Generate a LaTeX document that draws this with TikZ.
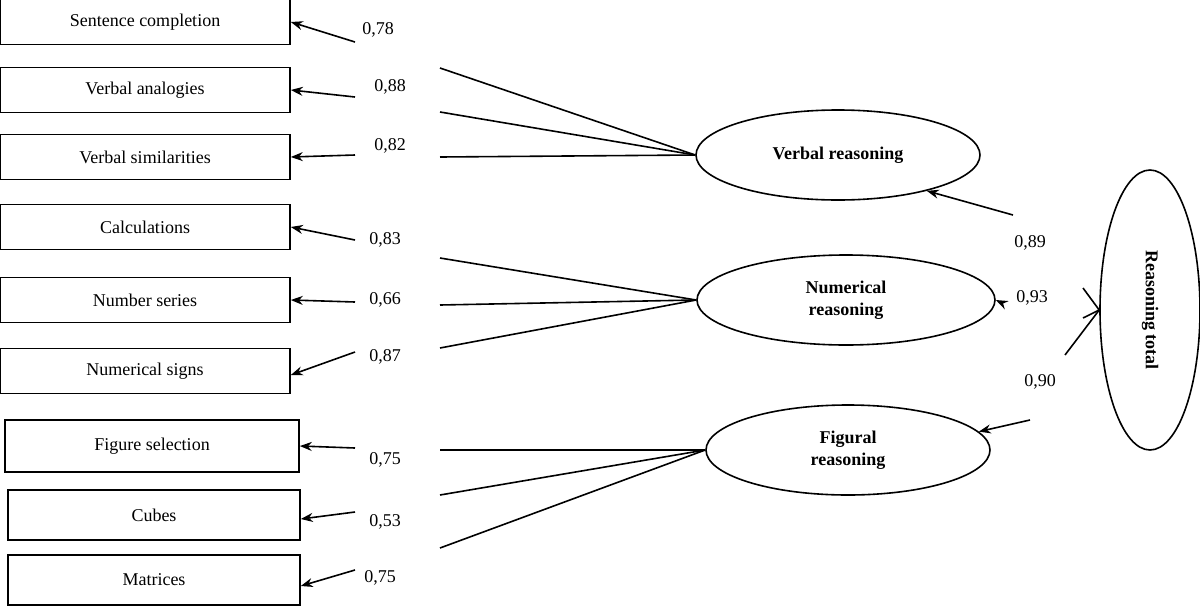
\documentclass[tikz,border=0pt]{standalone}
\usepackage{fontspec}
\setmainfont{Liberation Serif}
\usetikzlibrary{positioning,shapes.geometric,arrows.meta}
\begin{document}
\begin{tikzpicture}[x=0.5pt, y=-0.5pt, >={Stealth[length=6pt,width=4.5pt]},
  font=\fontsize{9}{10.5}\selectfont,
  obs/.style={draw, thick, minimum width=145pt, minimum height=22.5pt, inner sep=0pt},
  lat/.style={draw, thick, ellipse, minimum width=142pt, minimum height=45pt, font=\fontsize{9}{11}\selectfont\bfseries, align=center},
  load/.style={inner sep=1pt},
  arr/.style={->, thick}]
\useasboundingbox (0,0) rectangle (1200,611);
% observed
\node[obs] (sc) at (145,22) {Sentence completion};
\node[obs] (va) at (145,90) {Verbal analogies};
\node[obs] (vs) at (145,157) {Verbal similarities};
\node[obs] (ca) at (145,227) {Calculations};
\node[obs] (ns) at (145,300) {Number series};
\node[obs] (nsg) at (145,371) {Numerical signs};
\node[obs, minimum width=147pt, minimum height=26pt] (fs) at (152,446) {Figure selection};
\node[obs, minimum width=146pt, minimum height=25pt] (cu) at (154,515) {Cubes};
\node[obs, minimum width=146pt, minimum height=25pt] (ma) at (154,580) {Matrices};
% latent
\node[lat] (vr) at (838,155) {Verbal reasoning};
\node[lat, minimum width=149pt] (nr) at (846,300) {Numerical\\reasoning};
\node[lat] (fr) at (848,450) {Figural\\reasoning};
\node[draw, thick, ellipse, minimum width=50pt, minimum height=140pt, font=\fontsize{9}{11}\selectfont\bfseries] (rt) at (1150,310) {\rotatebox{-90}{Reasoning total}};
% loadings
\node[load] (l1) at (378,30) {0,78};
\node[load] (l2) at (390,87) {0,88};
\node[load] (l3) at (390,146) {0,82};
\node[load] (l4) at (385,240) {0,83};
\node[load] (l5) at (385,300) {0,66};
\node[load] (l6) at (385,357) {0,87};
\node[load] (l7) at (385,460) {0,75};
\node[load] (l8) at (385,522) {0,53};
\node[load] (l9) at (380,578) {0,75};
\node[load] (g1) at (1030,243) {0,89};
\node[load] (g2) at (1032,298) {0,93};
\node[load] (g3) at (1040,382) {0,90};
% line ends
\coordinate (a1) at (355,42);  \coordinate (b1) at (440,68);
\coordinate (a2) at (355,97);  \coordinate (b2) at (440,112);
\coordinate (a3) at (355,155); \coordinate (b3) at (440,157);
\coordinate (a4) at (355,240); \coordinate (b4) at (440,258);
\coordinate (a5) at (355,302); \coordinate (b5) at (440,305);
\coordinate (a6) at (355,352); \coordinate (b6) at (440,348);
\coordinate (a7) at (355,448); \coordinate (b7) at (440,450);
\coordinate (a8) at (355,512); \coordinate (b8) at (440,495);
\coordinate (a9) at (355,570); \coordinate (b9) at (440,548);
\coordinate (c1) at (1013,215); \coordinate (c2) at (1000,302); \coordinate (c3) at (1030,420);
\coordinate (d1) at (1083,288); \coordinate (d2) at (1083,318); \coordinate (d3) at (1065,355);
% connectors
\draw[arr] (a1) -- (sc.east);
\draw[arr] (a2) -- (va.east);
\draw[arr] (a3) -- (vs.east);
\draw[arr] (a4) -- (ca.east);
\draw[arr] (a5) -- (ns.east);
\draw[arr] (a6) -- ([yshift=-2pt]nsg.east);
\draw[arr] (a7) -- (fs.east);
\draw[arr] (a8) -- ([yshift=-2pt]cu.east);
\draw[arr] (a9) -- ([yshift=-3pt]ma.east);
\foreach \b in {b1,b2,b3} \draw[thick] (vr.west) -- (\b);
\foreach \b in {b4,b5,b6} \draw[thick] (nr.west) -- (\b);
\foreach \b in {b7,b8,b9} \draw[thick] (fr.west) -- (\b);
\draw[arr] (c1) -- (vr.-22);
\draw[arr] (c2) -- (nr.east);
\draw[arr] (c3) -- (fr.8);
\draw[thick] (d1) -- (rt.west) -- (d2);
\draw[thick] (d3) -- (rt.west);
\end{tikzpicture}
\end{document}
